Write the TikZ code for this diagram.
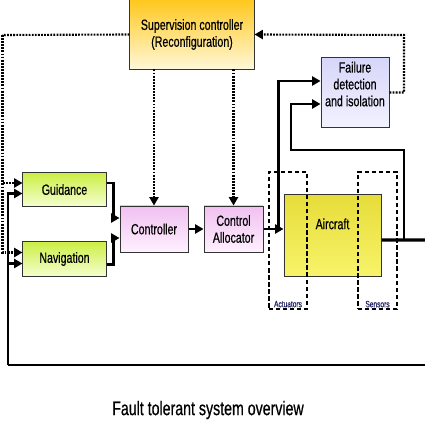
\documentclass[tikz,border=0pt]{standalone}
\usepackage{fontspec}
\setmainfont{Liberation Sans}[FakeStretch=0.72,FakeBold=0.6]
\usetikzlibrary{arrows.meta,calc,positioning}
\definecolor{supA}{HTML}{FFC81E}
\definecolor{supB}{HTML}{FFF8D8}
\definecolor{fdiA}{HTML}{D6D6FA}
\definecolor{fdiB}{HTML}{F2F2FF}
\definecolor{gnA}{HTML}{CCEE44}
\definecolor{gnB}{HTML}{F4FFD0}
\definecolor{ctA}{HTML}{F0C0F0}
\definecolor{ctB}{HTML}{FFF0FF}
\definecolor{airA}{HTML}{E6DC3A}
\definecolor{airB}{HTML}{F8F46A}
\definecolor{navy}{HTML}{202060}
\tikzset{
    %Define standard arrow tip
    >={Triangle[length=6pt,width=6.5pt]},
    %Define style for boxes
    boks/.style={
           rectangle,
           draw=black!80, line width=0.7pt,
           inner sep=1pt,
           align=center},
    % Define style for the dashed groups
    strek/.style={
           rectangle,
           draw=black, line width=1.3pt,
           dash pattern=on 3pt off 2pt},
    % Define line styles
    linje/.style={
           line width=2pt},
    pil/.style={
           ->,
           line width=2pt},
    prikk/.style={
           line width=1.5pt,
           dash pattern=on 1.3pt off 0.9pt}
}
\begin{document}
\begin{tikzpicture}[x=0.025cm,y=-0.025cm,font=\fontsize{10.5}{12}\selectfont]
 \useasboundingbox (0,0) rectangle (425,425);
 \clip (0,0) rectangle (425,425);

 %Blocks
 \node[boks,top color=supA,bottom color=supB,minimum width=3.1cm,minimum height=1.725cm] (sup) at (192,34.5) {Supervision controller\\(Reconfiguration)};
 \node[boks,top color=fdiA,bottom color=fdiB,minimum width=1.7cm,minimum height=1.725cm,
       label={[align=center,yshift=0.21cm]center:Failure\\detection\\and isolation}] (fdi) at (355,92.5) {};
 \node[boks,top color=gnA,bottom color=gnB,minimum width=2.075cm,minimum height=0.85cm] (guid) at (64.5,189.5) {Guidance};
 \node[boks,top color=gnA,bottom color=gnB,minimum width=2.075cm,minimum height=0.875cm,below=0.85cm of guid] (nav) {Navigation};
 \node[boks,top color=ctA,bottom color=ctB,minimum width=1.7cm,minimum height=1.15cm] (ctrl) at (154,229) {Controller};
 \node[boks,top color=ctA,bottom color=ctB,minimum width=1.475cm,minimum height=1.15cm,right=0.375cm of ctrl] (alloc) {Control\\Allocator};
 \node[boks,top color=airA,bottom color=airB,minimum width=2.425cm,minimum height=2.025cm,
       label={[yshift=0.29cm]center:Aircraft}] (air) at (332.5,235.5) {};

 %Actuators and sensors
 \node[strek,minimum width=0.95cm,minimum height=3.425cm,
       label={[yshift=0.35cm,text=navy,font=\fontsize{6.5}{7.5}\selectfont]south:Actuators}] (act) at (288,240.5) {};
 \node[strek,minimum width=0.975cm,minimum height=3.425cm,
       label={[yshift=0.35cm,text=navy,font=\fontsize{6.5}{7.5}\selectfont]south:Sensors}] (sens) at (377.5,240.5) {};

 %Reconfiguration (dotted)
 \coordinate (dtl) at (2.5,35);
 \coordinate (dtr) at (404,35);
 \draw[prikk] (sup.west) -- (dtl);
 \draw[prikk,->] (dtl) |- ($(guid.west)+(0,-6.5)$);
 \draw[prikk,->] (dtl) |- ($(nav.west)+(0,-6.5)$);
 \draw[prikk,->] (sup.south -| ctrl.north) -- (ctrl.north);
 \draw[prikk,->] (sup.south -| alloc.north) -- (alloc.north);
 \draw[prikk,->] (fdi.east) -| (dtr) -- (sup.east);

 %Forward path
 \draw[pil] ($(guid.east)+(0,-6.5)$) -- ++(7,0) |- ($(ctrl.west)+(0,-11)$);
 \draw[pil] ($(nav.east)+(0,5.5)$) -- ++(7,0) |- ($(ctrl.west)+(0,9)$);
 \draw[pil] (ctrl) -- (alloc);
 \draw[pil] (alloc.east) -- (alloc.east -| air.west);

 %Feedback
 \coordinate (ab) at ($(alloc.east)+(15,0)$);
 \coordinate (sb) at (404,240);
 \coordinate (sk) at (291,150);
 \coordinate (fbr) at (440,240);
 \coordinate (fbl) at (8,365);
 \draw[linje,line width=2.4pt] ($(air.east)+(0,4.5)$) -- (fbr);
 \draw[linje] (fbr) |- (fbl);
 \draw[pil] (fbl) |- ($(guid.west)+(0,4)$);
 \draw[pil] ($(fbl |- nav.west)+(0,4.5)$) -- ($(nav.west)+(0,4.5)$);
 \draw[pil] (ab) |- ($(fdi.west)+(0,-11.5)$);
 \draw[pil] (sb) |- (sk) |- ($(fdi.west)+(0,11.5)$);

 \node[font=\fontsize{14}{16}\selectfont] (title) at (208,410) {Fault tolerant system overview};
\end{tikzpicture}
\end{document}
